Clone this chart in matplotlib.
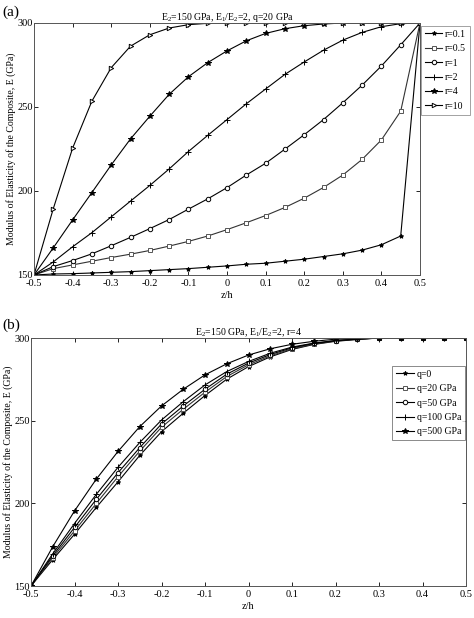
import matplotlib
matplotlib.use("Agg")
import matplotlib.pyplot as plt

plt.rcParams['font.family'] = ['Liberation Serif', 'DejaVu Serif']
plt.rcParams['mathtext.fontset'] = 'custom'
plt.rcParams['mathtext.rm'] = 'Liberation Serif'

z = [-0.5, -0.45, -0.4, -0.35, -0.3, -0.25, -0.2, -0.15, -0.1, -0.05, 0.0,
     0.05, 0.1, 0.15, 0.2, 0.25, 0.3, 0.35, 0.4, 0.45, 0.5]

# Panel (a): q = 20 GPa, various r
r_labels = ['r=0.1', 'r=0.5', 'r=1', 'r=2', 'r=4', 'r=10']
E_r01 = [150, 150.6, 150.8, 151.2, 151.6, 152, 152.6, 153.2, 153.8, 154.6, 155.4,
         156.4, 157, 158.2, 159.4, 161, 162.6, 164.8, 168, 173.2, 300]
E_r05 = [150, 153.8, 156, 158.2, 160.4, 162.4, 164.6, 167.2, 170, 173.2, 177,
         181.1, 185.4, 190.2, 195.7, 202.1, 209.5, 218.8, 230.4, 247.5, 300]
E_r1 = [150, 155, 158.6, 162.6, 167.4, 172.4, 177.6, 183, 189.2, 195.3, 202,
        209.5, 216.5, 224.9, 233.5, 242.5, 252.5, 263, 274.4, 287, 300]
E_r2 = [150, 157.8, 166.8, 175.2, 184.6, 194, 203.3, 213.1, 223.5, 233.1, 242.5,
        251.9, 260.7, 269.4, 276.8, 283.8, 289.8, 294.4, 297.8, 299.6, 300]
E_r4 = [150, 166.2, 182.8, 199.1, 215.5, 231, 244.5, 257.5, 268, 276.4, 283.4,
        289.4, 293.8, 296.6, 298.4, 299.4, 300, 300, 300, 300, 300]
E_r10 = [150, 189.5, 225.5, 253.5, 273.4, 286.2, 293, 297, 299, 299.8, 300,
         300, 300, 300, 300, 300, 300, 300, 300, 300, 300]

# Panel (b): r = 4, various q
q_labels = ['q=0', 'q=20 GPa', 'q=50 GPa', 'q=100 GPa', 'q=500 GPa']
E_q0 = [150, 166, 181.3, 197.5, 213, 229, 243.3, 254.5, 265.2, 275.1, 282.7,
        288.6, 293.1, 296.1, 298, 299.1, 300, 300, 300, 300, 300]
E_q20 = [150, 167.2, 183.3, 199.9, 216.1, 231.6, 246, 256.9, 267.2, 276.7, 283.8,
         289.2, 293.5, 296.3, 298.2, 299.2, 300, 300, 300, 300, 300]
E_q50 = [150, 168.3, 185.4, 202.4, 218.5, 233.7, 248, 258.9, 269, 278.1, 284.8,
         290, 294.1, 296.7, 298.4, 299.3, 300, 300, 300, 300, 300]
E_q100 = [150, 169.5, 187.8, 205.4, 221.8, 236.8, 250.4, 261.5, 271.6, 279.7, 285.8,
          290.8, 294.5, 296.9, 298.5, 299.4, 300, 300, 300, 300, 300]
E_q500 = [150, 173.8, 195.4, 214.6, 231.4, 246.4, 258.9, 269, 277.7, 284.4, 289.7,
          293.5, 296.2, 298, 299.3, 300, 300, 300, 300, 300, 300]

xticks = [-0.5, -0.4, -0.3, -0.2, -0.1, 0, 0.1, 0.2, 0.3, 0.4, 0.5]
xticklabels = ['-0.5', '-0.4', '-0.3', '-0.2', '-0.1', '0', '0.1', '0.2', '0.3', '0.4', '0.5']
yticks = [150, 200, 250, 300]

W, H = 474, 618
fig = plt.figure(figsize=(W / 100, H / 100), dpi=100)

def fx(px):
    return px / W

def fy(py):
    return 1 - py / H

axA = fig.add_axes([fx(34), fy(275), fx(420) - fx(34), fy(23) - fy(275)])
axB = fig.add_axes([fx(31), fy(586), fx(466) - fx(31), fy(338) - fy(586)])

styleA = [
    dict(marker='*', ms=3.2, mfc='black', mec='black', color='black'),
    dict(marker='s', ms=2.8, mfc='white', mec='#555555', color='#333333'),
    dict(marker='o', ms=3.2, mfc='white', mec='black', color='black'),
    dict(marker='+', ms=4.0, mec='black', color='black'),
    dict(marker='*', ms=4.2, mfc='black', mec='black', color='black'),
    dict(marker='>', ms=3.2, mfc='white', mec='black', color='black'),
]
seriesA = [E_r01, E_r05, E_r1, E_r2, E_r4, E_r10]
for lab, data, st in zip(r_labels, seriesA, styleA):
    axA.plot(z, data, lw=0.8, label=lab, mew=0.7, **st)

styleB = [
    dict(marker='*', ms=3.2, mfc='black', mec='black', color='black'),
    dict(marker='s', ms=2.8, mfc='white', mec='#555555', color='#333333'),
    dict(marker='o', ms=3.2, mfc='white', mec='black', color='black'),
    dict(marker='+', ms=4.0, mec='black', color='black'),
    dict(marker='*', ms=4.2, mfc='black', mec='black', color='black'),
]
seriesB = [E_q0, E_q20, E_q50, E_q100, E_q500]
for lab, data, st in zip(q_labels, seriesB, styleB):
    axB.plot(z, data, lw=0.8, label=lab, mew=0.7, **st)

for ax in (axA, axB):
    ax.set_xlim(-0.5, 0.5)
    ax.set_ylim(150, 300)
    ax.set_xticks(xticks)
    ax.set_xticklabels(xticklabels)
    ax.set_yticks(yticks)
    ax.tick_params(direction='in', top=True, right=True, labelsize=7.5,
                   length=3, width=0.6, colors='black')
    ax.tick_params(axis='x', pad=3)
    ax.tick_params(axis='y', pad=1)
    for s in ax.spines.values():
        s.set_linewidth(0.7)
        s.set_color('#555555')
    ax.set_xlabel('z/h', fontsize=7.5, labelpad=2)
    ax.set_ylabel('Modulus of Elasticity of the Composite, E (GPa)', fontsize=7, labelpad=1)

axA.set_title(r'E$_2$=150 GPa, E$_1$/E$_2$=2, q=20 GPa', fontsize=7, pad=2)
axB.set_title(r'E$_2$=150 GPa, E$_1$/E$_2$=2, r=4', fontsize=7, pad=2)

legA = axA.legend(loc='upper left', bbox_to_anchor=(fx(421), fy(26)),
                  bbox_transform=fig.transFigure, fontsize=7, frameon=True,
                  fancybox=False, edgecolor='#777777', handlelength=1.8,
                  handletextpad=0.3, borderpad=0.4, labelspacing=0.55,
                  borderaxespad=0)
legA.get_frame().set_linewidth(0.6)

legB = axB.legend(loc='upper right', bbox_to_anchor=(fx(465), fy(366)),
                  bbox_transform=fig.transFigure, fontsize=7, frameon=True,
                  fancybox=False, edgecolor='#555555', handlelength=1.8,
                  handletextpad=0.3, borderpad=0.4, labelspacing=0.55,
                  borderaxespad=0)
legB.get_frame().set_linewidth(0.6)

fig.text(fx(2), fy(12), '(a)', fontsize=11, va='center', ha='left')
fig.text(fx(2), fy(325), '(b)', fontsize=11, va='center', ha='left')

fig.savefig('out.png', dpi=100)
